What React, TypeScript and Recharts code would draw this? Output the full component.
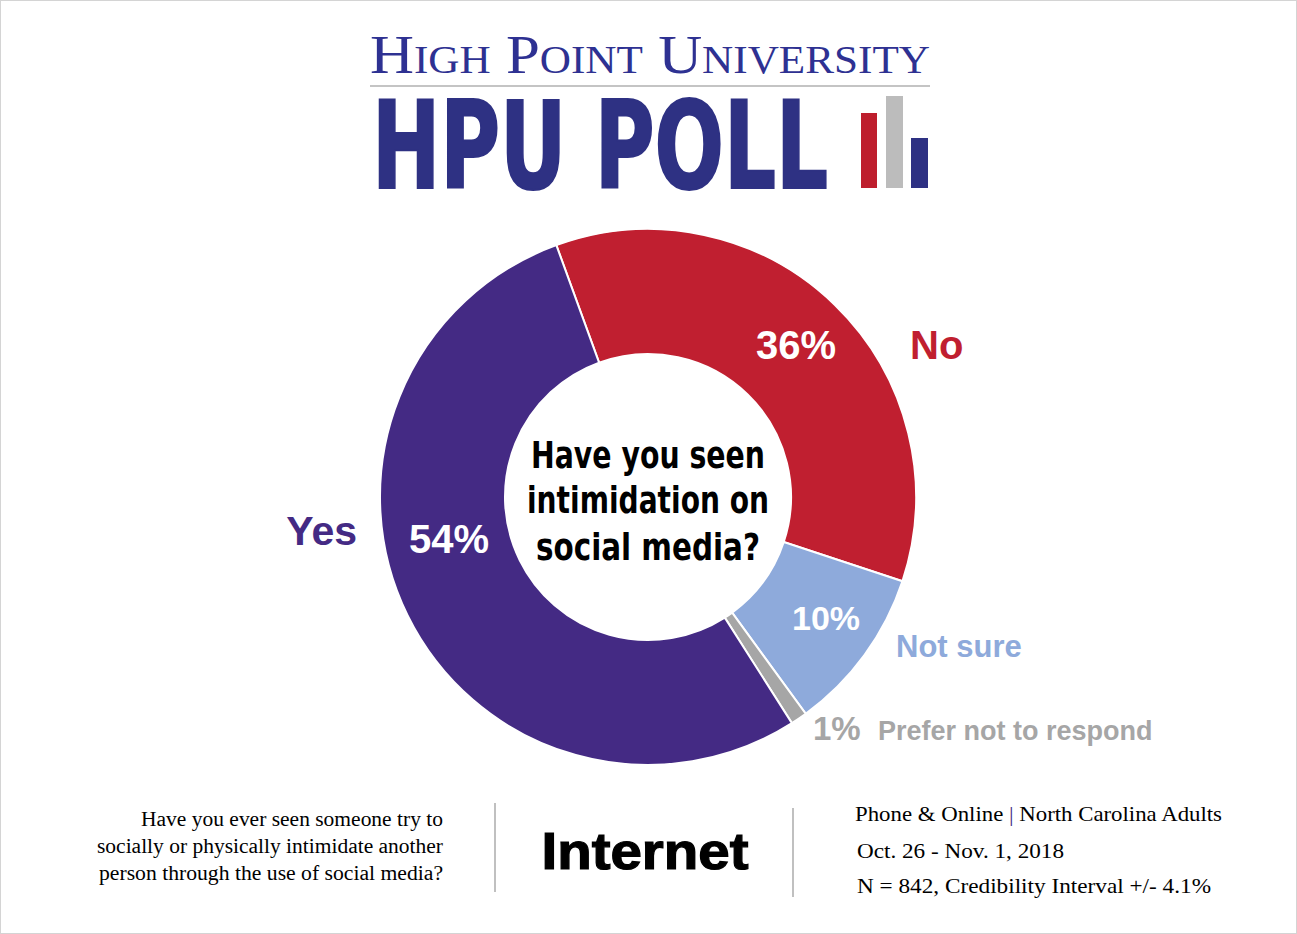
import * as React from 'react';
import { PieChart, Pie, Cell } from 'recharts';

const categories = ['No', 'Not sure', 'Prefer not to respond', 'Yes'];
const shares = [36, 10, 1, 54];
const sliceColors = ['#c01f30', '#8eaadb', '#a6a6a6', '#442a84'];

const question = ['Have you seen', 'intimidation on', 'social media?'];
const fullQuestion = [
  'Have you ever seen someone try to',
  'socially or physically intimidate another',
  'person through the use of social media?',
];
const methodLines = ['Oct. 26 - Nov. 1, 2018', 'N = 842, Credibility Interval +/- 4.1%'];

const W = 1297;
const H = 934;
const CX = 648;
const CY = 497;

// label placement, relative to the donut centre
const labelLayout: Record<string, any> = {
  No: { pct: [148, -152, 40], name: [262, -152, 40, 'start'] },
  'Not sure': { pct: [178, 121, 34], name: [248, 149, 31, 'start'] },
  'Prefer not to respond': { pct: [165, 231, 33, 'start'], name: [230, 234, 27, 'start'] },
  Yes: { pct: [-199, 42, 40], name: [-291, 34, 41, 'end'] },
};

const data = categories.map((name, i) => ({ name, value: shares[i] }));

const sans = '"Liberation Sans", Arial, sans-serif';
const narrow = '"Liberation Sans Narrow", "DejaVu Sans Condensed", sans-serif';
const serif = '"Liberation Serif", "Times New Roman", serif';

function renderLabel(props: any) {
  const { index } = props;
  const cx = props.cx ?? CX;
  const cy = props.cy ?? CY;
  const name = categories[index];
  const lay = labelLayout[name];
  const color = sliceColors[index];
  const pctInside = name !== 'Prefer not to respond';
  return (
    <g key={'lbl-' + index}>
      <text
        x={cx + lay.pct[0]}
        y={cy + lay.pct[1]}
        textAnchor={lay.pct[3] || 'middle'}
        dominantBaseline="central"
        fontFamily={sans}
        fontWeight="bold"
        fontSize={lay.pct[2]}
        fill={pctInside ? '#ffffff' : color}
      >
        {shares[index]}%
      </text>
      <text
        x={cx + lay.name[0]}
        y={cy + lay.name[1]}
        textAnchor={lay.name[3]}
        dominantBaseline="central"
        fontFamily={sans}
        fontWeight="bold"
        fontSize={lay.name[2]}
        fill={color}
      >
        {name}
      </text>
    </g>
  );
}

export default function App() {
  return (
    <div
      style={{
        position: 'absolute',
        left: 0,
        top: 0,
        width: W,
        height: H,
        background: '#fff',
        boxSizing: 'border-box',
        border: '1px solid #d4d4d4',
        overflow: 'hidden',
      }}
    >
      <div style={{ position: 'absolute', left: -1, top: -1 }}>
        <PieChart width={W} height={H} margin={{ top: 0, right: 0, bottom: 0, left: 0 }}>
          <Pie
            data={data}
            dataKey="value"
            nameKey="name"
            cx={CX}
            cy={CY}
            innerRadius={143}
            outerRadius={268}
            startAngle={110}
            endAngle={-250}
            stroke="#ffffff"
            strokeWidth={2}
            label={renderLabel}
            labelLine={false}
            isAnimationActive={false}
          >
            {data.map((d, i) => (
              <Cell key={d.name} fill={sliceColors[i]} />
            ))}
          </Pie>
        </PieChart>
      </div>
      <svg
        width={W}
        height={H}
        style={{ position: 'absolute', left: -1, top: -1, pointerEvents: 'none' }}
      >
        {/* header */}
        <text
          x={370}
          y={73}
          fontFamily={serif}
          fontSize={55}
          fill="#2e3192"
          style={{ fontVariant: 'small-caps' }}
          textLength={560}
          lengthAdjust="spacingAndGlyphs"
        >
          High Point University
        </text>
        <line x1={370} x2={930} y1={86} y2={86} stroke="#c4c4c4" strokeWidth={2} />
        <text
          x={372}
          y={188}
          fontFamily={narrow}
          fontWeight="bold"
          fontSize={121}
          fill="#2e3183"
          stroke="#2e3183"
          strokeWidth={2}
          textLength={456}
          lengthAdjust="spacingAndGlyphs"
        >
          HPU POLL
        </text>
        <rect x={861} y={113} width={16} height={75} fill="#be1e2d" />
        <rect x={886} y={96} width={17} height={92} fill="#bcbcbc" />
        <rect x={911} y={138} width={17} height={50} fill="#2e3183" />

        {/* centre question */}
        {question.map((q, i) => (
          <text
            key={q}
            x={CX}
            y={[455, 500, 547][i]}
            textAnchor="middle"
            dominantBaseline="central"
            fontFamily={narrow}
            fontWeight="bold"
            fontSize={38}
            fill="#000"
            textLength={[234, 242, 224][i]}
            lengthAdjust="spacingAndGlyphs"
          >
            {q}
          </text>
        ))}

        {/* footer */}
        {fullQuestion.map((q, i) => (
          <text
            key={q}
            x={443}
            y={826 + i * 27}
            textAnchor="end"
            fontFamily={serif}
            fontSize={20}
            fill="#000"
            textLength={[302, 346, 344][i]}
            lengthAdjust="spacingAndGlyphs"
          >
            {q}
          </text>
        ))}
        <line x1={495} x2={495} y1={803} y2={892} stroke="#c0c0c0" strokeWidth={2} />
        <text
          x={645}
          y={869}
          textAnchor="middle"
          fontFamily={sans}
          fontWeight="bold"
          fontSize={52}
          fill="#000"
          stroke="#000"
          strokeWidth={1.2}
          textLength={207}
          lengthAdjust="spacingAndGlyphs"
        >
          Internet
        </text>
        <line x1={793} x2={793} y1={808} y2={897} stroke="#c0c0c0" strokeWidth={2} />
        <text
          x={855}
          y={821}
          fontFamily={serif}
          fontSize={21}
          fill="#000"
          textLength={367}
          lengthAdjust="spacingAndGlyphs"
        >
          Phone &amp; Online <tspan fill="#442a84">|</tspan> North Carolina Adults
        </text>
        {methodLines.map((t, i) => (
          <text
            key={t}
            x={857}
            y={858 + i * 35}
            fontFamily={serif}
            fontSize={21}
            fill="#000"
            textLength={[207, 354][i]}
            lengthAdjust="spacingAndGlyphs"
          >
            {t}
          </text>
        ))}
      </svg>
    </div>
  );
}
